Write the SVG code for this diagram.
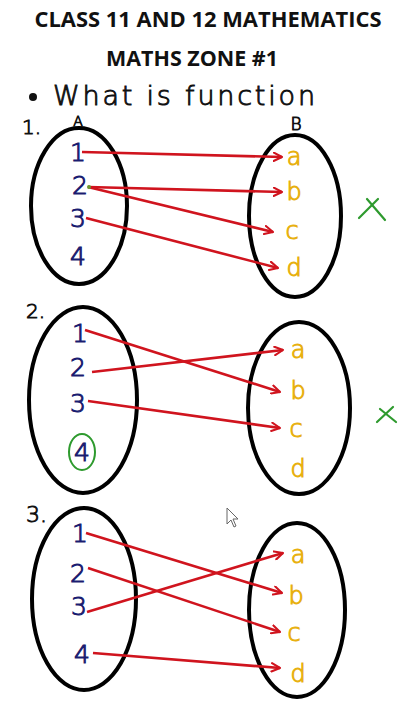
<svg xmlns="http://www.w3.org/2000/svg" width="405" height="720" viewBox="0 0 405 720">
<style>
.title{font-family:"Open Sans","Liberation Sans",sans-serif;font-weight:bold;font-size:21px;fill:#111;text-anchor:middle}
.hand{font-family:"DejaVu Sans","Liberation Sans",sans-serif;font-weight:200;fill:#111;stroke:#111;stroke-width:0.9}
.num{font-family:"DejaVu Sans","Liberation Sans",sans-serif;font-weight:200;font-size:25px;fill:#1a1c70;stroke:#1a1c70;stroke-width:1;text-anchor:middle}
.let{font-family:"DejaVu Sans","Liberation Sans",sans-serif;font-weight:200;font-size:24px;fill:#e8b010;stroke:#e8b010;stroke-width:1;text-anchor:middle}
.set{fill:none;stroke:#000;stroke-width:4}
.arr{stroke:#d0141e;stroke-width:2.6;fill:none;marker-end:url(#ah)}
.mark{stroke:#2e9a2e;stroke-width:2.2;fill:none;stroke-linecap:round}
</style>
<defs>
<marker id="ah" viewBox="0 0 10 10" refX="9" refY="5" markerWidth="4" markerHeight="4" orient="auto" markerUnits="strokeWidth">
<path d="M1,1 L9,5 L1,9" fill="none" stroke="#d0141e" stroke-width="2" stroke-linejoin="round" stroke-linecap="round"/>
</marker>
</defs>
<rect width="405" height="720" fill="#fff"/>
<text class="title" x="208" y="27" textLength="347" lengthAdjust="spacingAndGlyphs">CLASS 11 AND 12 MATHEMATICS</text>
<text class="title" x="192" y="66" textLength="172" lengthAdjust="spacingAndGlyphs">MATHS ZONE #1</text>
<circle cx="33" cy="97" r="4" fill="#111"/>
<text class="hand" x="53" y="105" font-size="27" textLength="262" lengthAdjust="spacing">What  is  function</text>

<g id="section1">
<text class="hand" x="22" y="134" font-size="20">1.</text>
<text class="hand" x="78" y="126" font-size="14" text-anchor="middle">A</text>
<text class="hand" x="296" y="130" font-size="17" text-anchor="middle">B</text>
<g id="A1"><ellipse class="set" cx="79" cy="206" rx="48" ry="78"/>
<text class="num" x="78" y="161">1</text><text class="num" x="80" y="194">2</text><text class="num" x="78" y="227">3</text><text class="num" x="78" y="265">4</text></g>
<g id="B1"><ellipse class="set" cx="295" cy="216" rx="46" ry="81"/>
<text class="let" x="294" y="165">a</text><text class="let" x="294" y="200">b</text><text class="let" x="292" y="239">c</text><text class="let" x="294" y="276">d</text></g>
<g id="mark1"><path class="mark" d="M359,218 L378,199 M367,199 L385,220"/></g>
</g>

<g id="section2">
<text class="hand" x="26" y="318" font-size="20">2.</text>
<g id="A2"><ellipse class="set" cx="83" cy="400" rx="54" ry="93"/>
<text class="num" x="80" y="342">1</text><text class="num" x="78" y="376">2</text><text class="num" x="78" y="412">3</text>
<ellipse cx="82" cy="452" rx="13" ry="18" fill="none" stroke="#2e9a2e" stroke-width="2"/>
<text class="num" x="82" y="461">4</text></g>
<g id="B2"><ellipse class="set" cx="299" cy="408" rx="51" ry="86"/>
<text class="let" x="298" y="358">a</text><text class="let" x="298" y="399">b</text><text class="let" x="296" y="437">c</text><text class="let" x="298" y="477">d</text></g>
<g id="mark2"><path class="mark" d="M377,422 L393,407 M380,409 L396,422"/></g>
</g>

<g id="section3">
<text class="hand" x="26" y="522" font-size="22">3.</text>
<g id="A3"><ellipse class="set" cx="84" cy="599" rx="52" ry="91"/>
<text class="num" x="80" y="542">1</text><text class="num" x="78" y="582">2</text><text class="num" x="79" y="615">3</text><text class="num" x="82" y="663">4</text></g>
<g id="B3"><ellipse class="set" cx="297" cy="610" rx="48" ry="87"/>
<text class="let" x="298" y="563">a</text><text class="let" x="296" y="604">b</text><text class="let" x="294" y="641">c</text><text class="let" x="298" y="682">d</text></g>
</g>

<path id="cursor" d="M227,508 L227,524 L231,520 L234,527 L236,526 L233,519 L238,519 Z" fill="#fff" stroke="#666" stroke-width="1"/>

<g id="connectors">
<line class="arr" x1="82" y1="152" x2="282" y2="157"/>
<line class="arr" x1="88" y1="187" x2="282" y2="192"/>
<line class="arr" x1="88" y1="187" x2="273" y2="232"/>
<line class="arr" x1="86" y1="218" x2="278" y2="268"/>
<circle cx="89" cy="187" r="2" fill="#6a9a2e"/>
<line class="arr" x1="85" y1="330" x2="280" y2="392"/>
<line class="arr" x1="92" y1="372" x2="283" y2="350"/>
<line class="arr" x1="88" y1="401" x2="280" y2="428"/>
<line class="arr" x1="86" y1="533" x2="282" y2="593"/>
<line class="arr" x1="88" y1="568" x2="280" y2="632"/>
<line class="arr" x1="87" y1="612" x2="283" y2="553"/>
<line class="arr" x1="93" y1="653" x2="280" y2="668"/>
</g>
</svg>
